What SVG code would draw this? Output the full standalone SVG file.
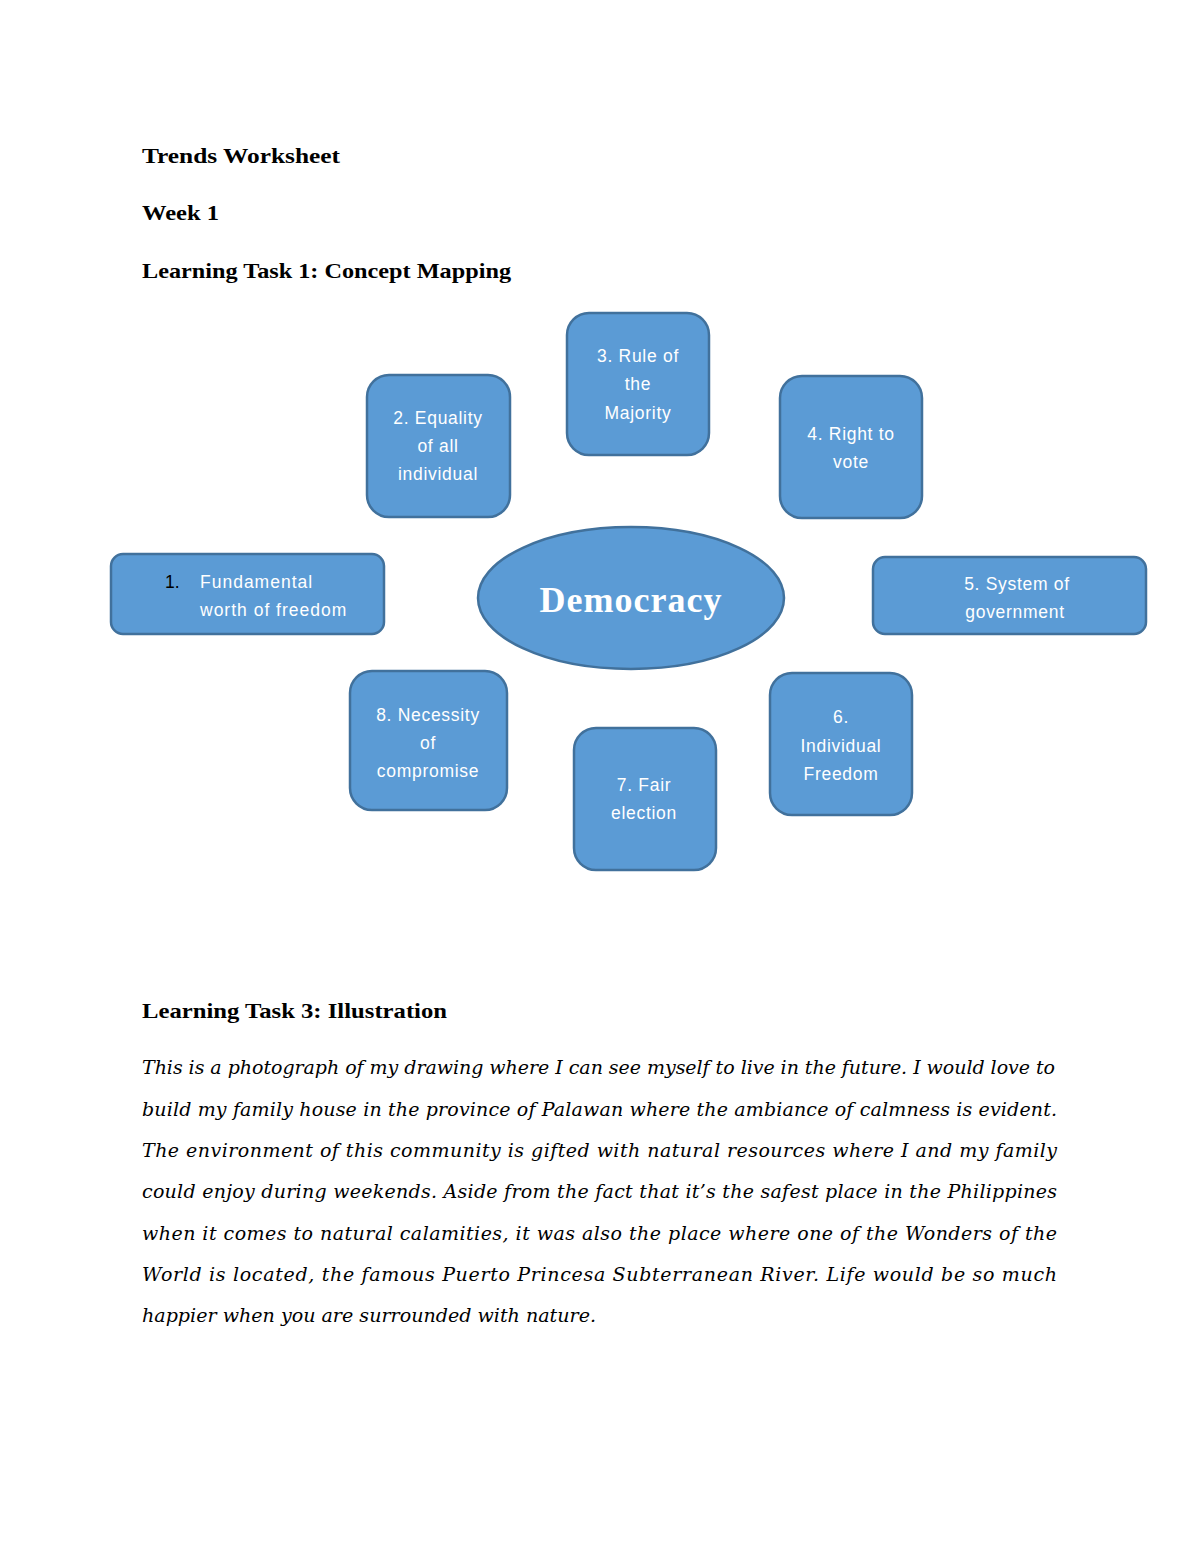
<svg xmlns="http://www.w3.org/2000/svg" width="1200" height="1553" viewBox="0 0 1200 1553">
<style>
.bg{fill:#ffffff}
.h{font-family:"Liberation Serif","DejaVu Serif",serif;font-weight:bold;font-size:22px;fill:#000}
.p{font-family:"DejaVu Serif","Liberation Serif",serif;font-style:italic;font-size:19px;fill:#000}
.box{fill:#5B9BD5;stroke:#41719C;stroke-width:2.5}
.t{font-family:"Liberation Sans",Arial,sans-serif;font-size:17.5px;fill:#ffffff;text-anchor:middle;letter-spacing:0.7px}
.tl{font-family:"Liberation Sans",Arial,sans-serif;font-size:17.5px;fill:#ffffff;letter-spacing:1px}
.dem{font-family:"Liberation Serif","DejaVu Serif",serif;font-weight:bold;font-size:36px;fill:#ffffff;text-anchor:middle;letter-spacing:1px}
</style>
<rect class="bg" x="0" y="0" width="1200" height="1553"/>
<g id="headings">
<text class="h" x="142" y="163" textLength="198" lengthAdjust="spacingAndGlyphs">Trends Worksheet</text>
<text class="h" x="142" y="220" textLength="77" lengthAdjust="spacingAndGlyphs">Week 1</text>
<text class="h" x="142" y="278" textLength="369" lengthAdjust="spacingAndGlyphs">Learning Task 1: Concept Mapping</text>
<text class="h" x="142" y="1018" textLength="305" lengthAdjust="spacingAndGlyphs">Learning Task 3: Illustration</text>
</g>
<g id="connectors"></g>
<g id="node-democracy">
<ellipse class="box" cx="631" cy="598" rx="153" ry="71"/>
<text class="dem" x="631" y="612">Democracy</text>
</g>
<g id="node-1">
<rect class="box" x="111" y="554" width="273" height="80" rx="12"/>
<text x="165" y="588" style="font-family:'Liberation Sans',Arial,sans-serif;font-size:17.5px;fill:#000">1.</text>
<text class="tl" x="200" y="588">Fundamental</text>
<text class="tl" x="200" y="616">worth of freedom</text>
</g>
<g id="node-2">
<rect class="box" x="367" y="375" width="143" height="142" rx="22"/>
<text class="t" x="438" y="424">2. Equality</text>
<text class="t" x="438" y="452">of all</text>
<text class="t" x="438" y="480">individual</text>
</g>
<g id="node-3">
<rect class="box" x="567" y="313" width="142" height="142" rx="22"/>
<text class="t" x="638" y="362">3. Rule of</text>
<text class="t" x="638" y="390">the</text>
<text class="t" x="638" y="419">Majority</text>
</g>
<g id="node-4">
<rect class="box" x="780" y="376" width="142" height="142" rx="22"/>
<text class="t" x="851" y="440">4. Right to</text>
<text class="t" x="851" y="468">vote</text>
</g>
<g id="node-5">
<rect class="box" x="873" y="557" width="273" height="77" rx="12"/>
<text class="t" x="1017" y="590">5.  System of</text>
<text class="t" x="1015" y="618">government</text>
</g>
<g id="node-6">
<rect class="box" x="770" y="673" width="142" height="142" rx="22"/>
<text class="t" x="841" y="723">6.</text>
<text class="t" x="841" y="752">Individual</text>
<text class="t" x="841" y="780">Freedom</text>
</g>
<g id="node-7">
<rect class="box" x="574" y="728" width="142" height="142" rx="22"/>
<text class="t" x="644" y="791">7. Fair</text>
<text class="t" x="644" y="819">election</text>
</g>
<g id="node-8">
<rect class="box" x="350" y="671" width="157" height="139" rx="22"/>
<text class="t" x="428" y="721">8. Necessity</text>
<text class="t" x="428" y="749">of</text>
<text class="t" x="428" y="777">compromise</text>
</g>
<g id="paragraph">
<text class="p" x="142" y="1074" textLength="913" lengthAdjust="spacing">This is a photograph of my drawing where I can see myself to live in the future. I would love to</text>
<text class="p" x="142" y="1116" textLength="915" lengthAdjust="spacing">build my family house in the province of Palawan where the ambiance of calmness is evident.</text>
<text class="p" x="142" y="1157" textLength="915" lengthAdjust="spacing">The environment of this community is gifted with natural resources where I and my family</text>
<text class="p" x="142" y="1198" textLength="915" lengthAdjust="spacing">could enjoy during weekends. Aside from the fact that it’s the safest place in the Philippines</text>
<text class="p" x="142" y="1240" textLength="915" lengthAdjust="spacing">when it comes to natural calamities, it was also the place where one of the Wonders of the</text>
<text class="p" x="142" y="1281" textLength="915" lengthAdjust="spacing">World is located, the famous Puerto Princesa Subterranean River. Life would be so much</text>
<text class="p" x="142" y="1322" textLength="454" lengthAdjust="spacingAndGlyphs">happier when you are surrounded with nature.</text>
</g>
</svg>
